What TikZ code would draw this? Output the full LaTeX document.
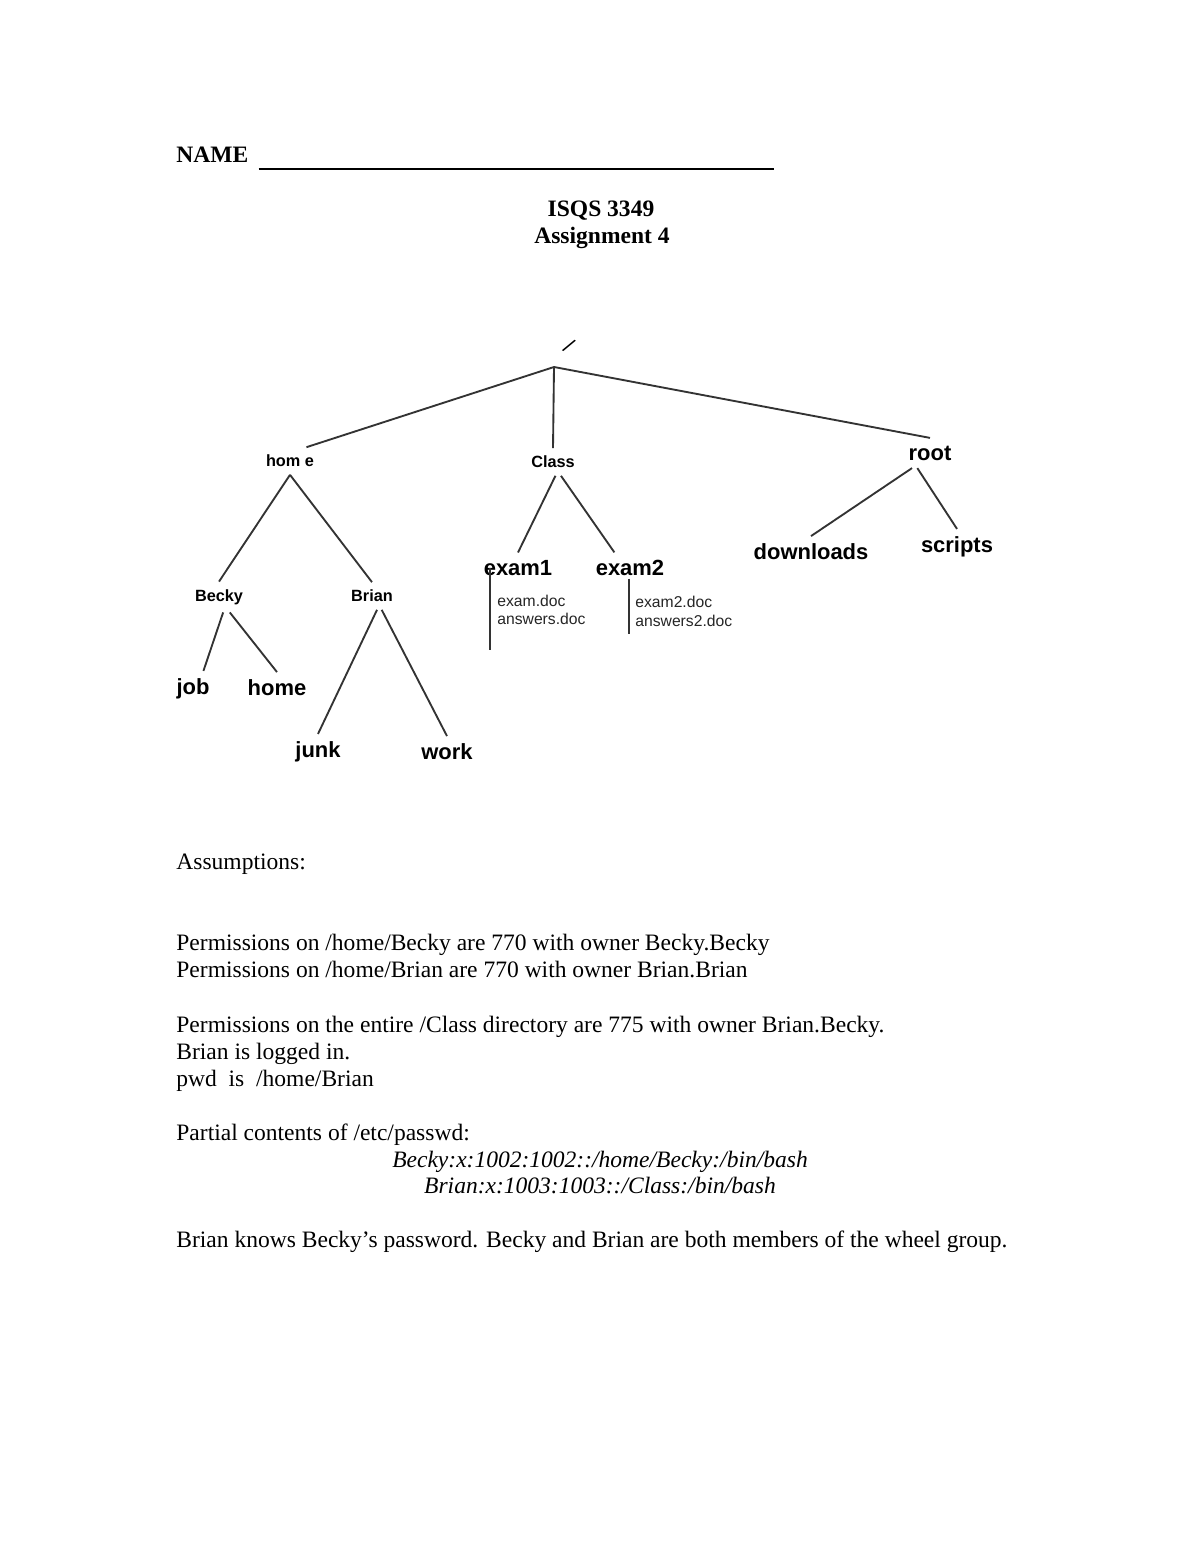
\documentclass[tikz,border=0pt]{standalone}
\usepackage{fontspec}
\setmainfont{Liberation Serif}
\setsansfont{Liberation Sans}
\usetikzlibrary{calc}

\begin{document}
\begin{tikzpicture}[
    x=0.51pt, y=-0.51pt,
    % Styles
    dirs/.style={ % small directory label
        font=\sffamily\bfseries\fontsize{8.3}{10}\selectfont,
        inner sep=0pt,
        outer sep=4pt
    },
    dirb/.style={ % big directory label
        font=\sffamily\bfseries\fontsize{11.2}{13}\selectfont,
        inner sep=0pt,
        outer sep=4pt
    },
    file/.style={ % file names below an exam directory
        font=\sffamily\fontsize{8}{9.5}\selectfont,
        text=black!85,
        anchor=base west,
        inner sep=0pt
    },
    body/.style={ % text lines of the sheet
        font=\fontsize{12}{14}\selectfont,
        anchor=base west,
        inner sep=0pt
    },
    title/.style={
        body,
        font=\bfseries\fontsize{12}{14}\selectfont
    },
    branch/.style={
        draw=black!80,
        line width=0.95pt
    }
]
    \useasboundingbox[fill=white] (0,0) rectangle (1200,1553);

    % Header
    \node[title] (name) at (176,163) {NAME};
    \coordinate (nameend) at (774,169);
    \draw[line width=0.8pt] ($(name.base east)+(10,6)$) -- (nameend);
    \node[title, anchor=base] (course) at (601,217) {ISQS 3349};
    \node[title, anchor=base] (assign) at (602,244) {Assignment 4};

    % Root of the tree
    \node[font=\sffamily\fontsize{11}{13}\selectfont, rotate=-35, inner sep=0pt] (slash) at (569,346) {/};
    \coordinate (hub) at (554,367);

    % Directories
    \node[dirs] (home) at (290,461) {hom e};
    \node[dirs] (class) at (553,462) {Class};
    \node[dirb] (root) at (930,453) {root};
    \node[dirs] (becky) at (219,597) {Becky};
    \node[dirs] (brian) at (372,596) {Brian};
    \node[dirb] (job) at (193,689) {job};
    \node[dirb] (bhome) at (277,688) {home};
    \node[dirb] (junk) at (318,752) {junk};
    \node[dirb] (work) at (447,752) {work};
    \node[dirb] (exam1) at (518,568) {exam1};
    \node[dirb] (exam2) at (630,568) {exam2};
    \node[dirb] (downloads) at (811,552) {downloads};
    \node[dirb] (scripts) at (957,547) {scripts};

    % Branches
    \draw[branch] (hub) -- (home.40);
    \draw[branch] (hub) -- (class.north);
    \draw[branch] (hub) -- (root.north);
    \draw[branch] (home.south) -- (becky.north);
    \draw[branch] (home.south) -- (brian.north);
    \draw[branch] (becky.-75) -- (job.60);
    \draw[branch] (becky.-55) -- (bhome.north);
    \draw[branch] (brian.-70) -- (junk.north);
    \draw[branch] (brian.-55) -- (work.north);
    \draw[branch] (class.-80) -- (exam1.north);
    \draw[branch] (class.-60) -- (exam2.135);
    \draw[branch] (root.-140) -- (downloads.north);
    \draw[branch] (root.-130) -- (scripts.north);

    % Files in the exam directories
    \coordinate (e1end) at (490,650);
    \draw[branch] (exam1.center -| e1end) -- (e1end);
    \foreach \f [count=\i] in {exam.doc, answers.doc}
        \node[file] (fa\i) at (497, 588+18*\i) {\f};
    \coordinate (e2end) at (629,634);
    \draw[branch] ($(exam2.south -| e2end)+(0,-5)$) -- (e2end);
    \foreach \f [count=\i] in {exam2.doc, answers2.doc}
        \node[file] (fb\i) at (635, 588+19*\i) {\f};

    % Assumptions
    \foreach \txt/\y [count=\i] in {
        {Assumptions:}/869,
        {Permissions on /home/Becky are 770 with owner Becky.Becky}/950,
        {Permissions on /home/Brian are 770 with owner Brian.Brian}/977,
        {Permissions on the entire /Class directory are 775 with owner Brian.Becky.}/1032,
        {Brian is logged in.}/1059,
        {pwd~ is~ /home/Brian}/1086,
        {Partial contents of /etc/passwd:}/1140,
        {Brian knows Becky’s password. Becky and Brian are both members of the wheel group.}/1247}
        \node[body] (line\i) at (176,\y) {\txt};

    % Lines of /etc/passwd
    \node[body, anchor=base, font=\itshape\fontsize{12}{14}\selectfont] (pwa) at (600,1167) {Becky:x:1002:1002::/home/Becky:/bin/bash};
    \node[body, anchor=base, font=\itshape\fontsize{12}{14}\selectfont] (pwb) at (600,1193) {Brian:x:1003:1003::/Class:/bin/bash};
\end{tikzpicture}
\end{document}
